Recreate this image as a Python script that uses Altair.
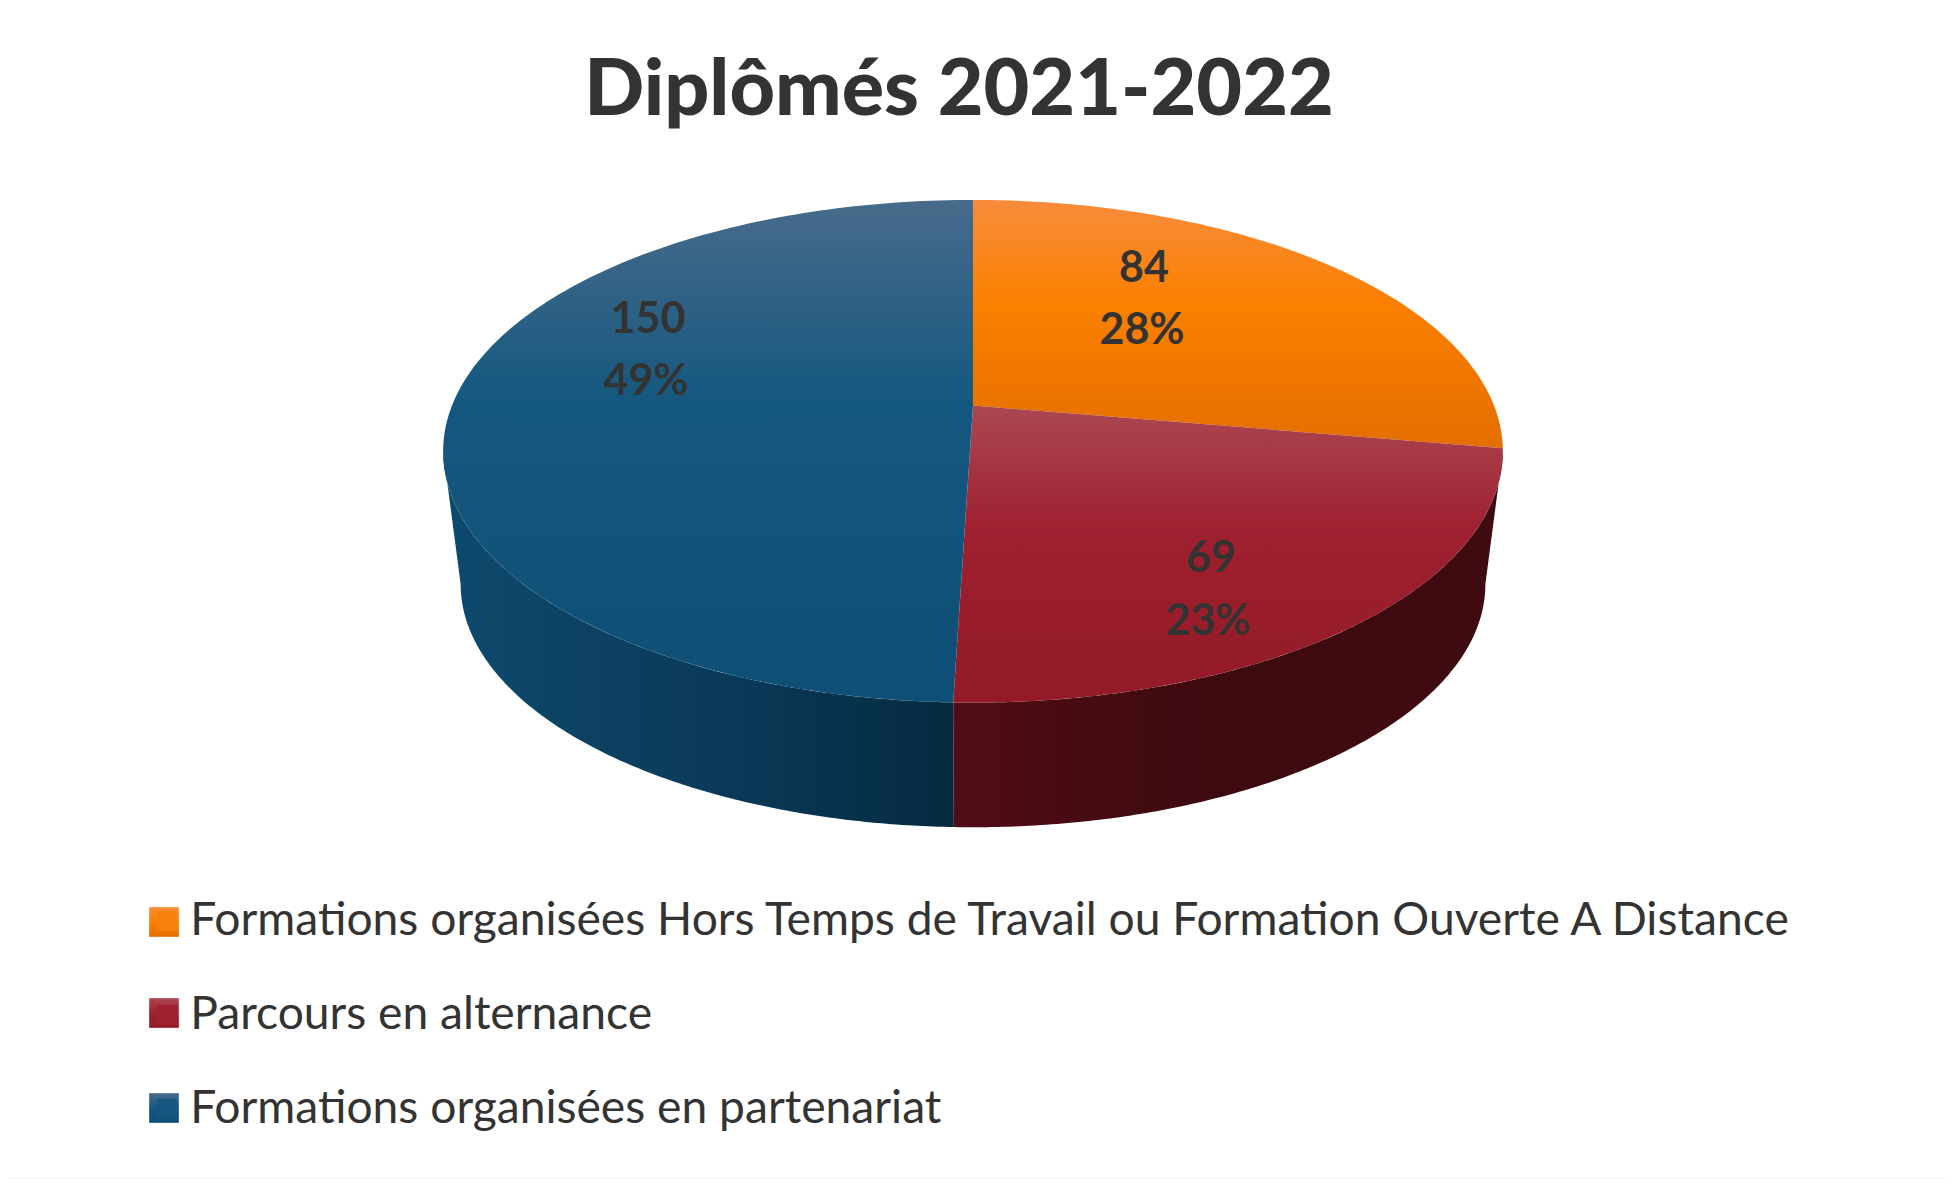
import math
import altair as alt
import pandas as pd

# --- chart values
categories = [
    "Formations organisées Hors Temps de Travail ou Formation Ouverte A Distance",
    "Parcours en alternance",
    "Formations organisées en partenariat",
]
counts = [84, 69, 150]
percents = ["28%", "23%", "49%"]
title_text = "Diplômés 2021-2022"

# --- colours
flat_colors = ["#f77f0c", "#9e1f2e", "#15557f"]
top_stops = [
    [(0, "#f78c3c"), (0.42, "#fb8000"), (1, "#e46e00")],
    [(0, "#ab4852"), (0.42, "#9f2030"), (1, "#931a26")],
    [(0, "#486b8b"), (0.40, "#15587f"), (1, "#0f4e75")],
]
wall_stops = {
    1: [(0, "#520c15"), (0.45, "#3d0a10"), (1, "#3f0b11")],
    2: [(0, "#0e4a6e"), (0.6, "#0a3856"), (1, "#052a40")],
}
swatch_stops = [
    [(0, "#f78c3c"), (0.5, "#fb8000"), (1, "#e46e00")],
    [(0, "#ab4852"), (0.5, "#9f2030"), (1, "#931a26")],
    [(0, "#486b8b"), (0.5, "#15587f"), (1, "#0f4e75")],
]

# --- page layout in pixels
PAGE_W, PAGE_H = 1940, 1188
TOP = 120
CX, CY = 973.0, 405.5       # vertex of the pie
RX, RY = 521.0, 243.0       # ground circle size before perspective
K = 0.182                   # perspective strength
WALL_S, WALL_DY = 0.967, 134.5

def ux(px):
    return (px - CX) / RX

def uy(py):
    return (CY - py) / RY

x_scale = alt.Scale(domain=[ux(8), ux(8 + PAGE_W)], range=[0, PAGE_W], nice=False, zero=False)
y_scale = alt.Scale(domain=[uy(8 + PAGE_H), uy(8 + TOP)], range=[PAGE_H - TOP, 0], nice=False, zero=False)
X = alt.X("x:Q", scale=x_scale, axis=None)
Y = alt.Y("y:Q", scale=y_scale, axis=None)


def rim(theta_deg, lower=False):
    t = math.radians(theta_deg)
    w = 1 + K * math.cos(t)
    x, y = math.sin(t) / w, math.cos(t) / w
    if lower:
        x, y = x * WALL_S, y * WALL_S - WALL_DY / RY
    return x, y


def arc(a, b, lower=False, n=160):
    return [rim(a + (b - a) * i / n, lower) for i in range(n + 1)]


total = sum(counts)
edges = [0]
for c in counts:
    edges.append(edges[-1] + 360 * c / total)


def gradient(stops, horizontal=False):
    return alt.Gradient(
        gradient="linear",
        stops=[alt.GradientStop(offset=o, color=c) for o, c in stops],
        x1=0, y1=0,
        x2=1 if horizontal else 0,
        y2=0 if horizontal else 1,
    )


def polygon(points, fill):
    df = pd.DataFrame(points, columns=["x", "y"])
    df["i"] = range(len(df))
    return alt.Chart(df).mark_line(fill=fill, stroke="transparent", strokeWidth=0, interpolate="linear").encode(
        x=X, y=Y, order="i:Q"
    )


layers = []

# side wall
tangent_r = math.degrees(math.acos(-K))
tangent_l = 360 - tangent_r
front = {1: (tangent_r, edges[2]), 2: (edges[2], tangent_l)}
for idx, (a, b) in front.items():
    pts = arc(a, b) + arc(a, b, lower=True)[::-1]
    pts.append(pts[0])
    layers.append(polygon(pts, gradient(wall_stops[idx], horizontal=True)))

# top faces
for i in range(3):
    pts = [(0.0, 0.0)] + arc(edges[i], edges[i + 1]) + [(0.0, 0.0)]
    layers.append(polygon(pts, gradient(top_stops[i])))

# invisible layer carrying the legend
legend_df = pd.DataFrame({"cat": categories, "n": counts, "x": [0, 0, 0], "y": [0, 0, 0]})
layers.append(
    alt.Chart(legend_df).mark_point(filled=True, shape="square", opacity=0, size=1).encode(
        x=X, y=Y,
        fill=alt.Fill(
            "cat:N",
            scale=alt.Scale(domain=categories, range=flat_colors),
            legend=alt.Legend(
                title=None, orient="none", legendX=136, legendY=770,
                symbolType="square", symbolSize=400, symbolOpacity=1, symbolStrokeWidth=0,
                labelFont="Lato", labelFontSize=46.2, labelColor="#333333", labelLimit=1800,
                labelOffset=0, rowPadding=47, columns=1,
            ),
        ),
    )
)

# gradient faces of the legend swatches
swatch_px = [(164, 922), (164, 1013), (164, 1108)]
for (sx, sy), stops in zip(swatch_px, swatch_stops):
    layers.append(
        alt.Chart(pd.DataFrame({"x": [ux(sx)], "y": [uy(sy)]})).mark_square(
            size=880, fill=gradient(stops), stroke="transparent", strokeWidth=0, opacity=1
        ).encode(x=X, y=Y)
    )

# data labels
label_px = [(1144, 269, 1142, 331), (1211, 559, 1208, 622), (648, 320, 646, 382)]
rows = []
for (x1, y1, x2, y2), c, p in zip(label_px, counts, percents):
    rows.append({"x": ux(x1), "y": uy(y1), "t": str(c)})
    rows.append({"x": ux(x2), "y": uy(y2), "t": p})
layers.append(
    alt.Chart(pd.DataFrame(rows)).mark_text(
        font="Lato", fontSize=43, fontWeight="bold", color="#333333", baseline="middle", align="center"
    ).encode(x=X, y=Y, text="t:N")
)

# faint rule near the bottom of the picture
layers.append(
    alt.Chart(pd.DataFrame({"x": [ux(8)], "x2": [ux(8 + PAGE_W)], "y": [uy(1178)]})).mark_rule(
        color="#f4f4f4", strokeWidth=1
    ).encode(x=X, x2="x2:Q", y=Y)
)

chart = alt.layer(*layers).properties(
    width=PAGE_W,
    height=PAGE_H - TOP,
    autosize=alt.AutoSizeParams(type="none"),
    padding={"left": 0, "right": 0, "top": TOP, "bottom": 0},
    title=alt.TitleParams(
        title_text, font="Lato", fontSize=79, fontWeight=900, color="#333333",
        anchor="middle", dx=-19, offset=-4,
    ),
).configure_view(stroke=None)

chart.save("out.html", embed_options={"renderer": "svg", "actions": False})
